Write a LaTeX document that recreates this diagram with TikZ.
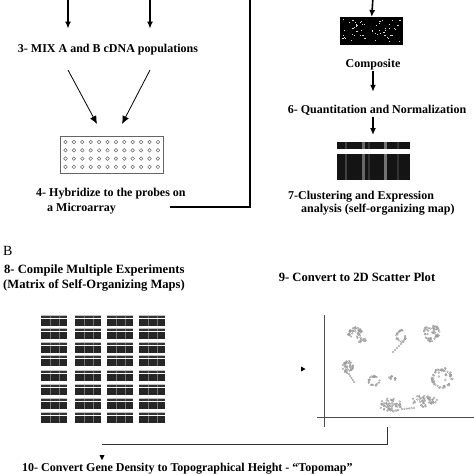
\documentclass[tikz,border=0pt]{standalone}
\usepackage{fontspec}
\setmainfont{Liberation Serif}
\usetikzlibrary{arrows.meta,calc}
\begin{document}
\begin{tikzpicture}[x=1pt,y=-1pt,
  lbl/.style={font=\fontsize{12}{13}\selectfont\bfseries, inner sep=0pt, text height=8.5pt, text depth=2.5pt},
  lblb/.style={font=\fontsize{12.6}{13}\selectfont\bfseries, inner sep=0pt, text height=8.5pt, text depth=2.5pt},
  arrthick/.style={line width=1.6pt, -{Latex[length=7pt,width=6pt]}},
  arrthin/.style={line width=0.8pt, -{Latex[length=8pt,width=7pt]}},
  wire/.style={line width=1.2pt},
  thinwire/.style={line width=0.8pt, draw=black!80},
  axisline/.style={line width=0.8pt, draw=black!70},
  dotc/.style={draw=black!40, line width=0.35pt},
]
\useasboundingbox (0,0) rectangle (474,474);

% ---------- Part A, left column ----------
\coordinate (inA) at (68,-3);
\coordinate (inB) at (150,-3);
\node[lbl] (mix) at (108,49.3) {3- MIX A and B cDNA populations};
\draw[arrthick, shorten >=15pt] (inA) -- (inA |- mix.north);
\draw[arrthick, shorten >=15pt] (inB) -- (inB |- mix.north);

\node[draw=black!60, line width=0.9pt, minimum width=103pt, minimum height=37pt, inner sep=0pt, anchor=north west] (chip) at (60,136) {};
\foreach \i in {0,...,11}
  \foreach \j in {0,...,3}
    \draw[black!60, line width=0.5pt] ($(chip.north west)+(5.5+\i*8.4, 6+\j*8.3)$) circle[radius=1.8pt];

\coordinate (d1s) at (68,70);  \coordinate (d1e) at (97,124);
\coordinate (d2s) at (150,70); \coordinate (d2e) at (122,124);
\draw[arrthin] (d1s) -- (d1e);
\draw[arrthin] (d2s) -- (d2e);

\node[lbl, anchor=west] (hyb1) at (36,193) {4- Hybridize to the probes on};
\node[lbl, anchor=west] (hyb2) at (47,208.7) {a Microarray};

% feedback line
\coordinate (fb0) at (170,207);
\coordinate (fbtop) at (250,-3);
\draw[wire] (fb0) -- (fb0 -| fbtop) -- (fbtop);

% ---------- Part A, right column ----------
\coordinate (inC) at (373,-3);
\node[fill=black, minimum width=63pt, minimum height=28pt, inner sep=0pt, anchor=north west] (compimg) at (340,17) {};
\draw[arrthick] (inC) -- (compimg.north);
\pgfmathsetseed{11}
\foreach \k in {1,...,55}
  \fill[black!15] ($(compimg.north west)+(2+rnd*58, 2+rnd*23)$) rectangle ++(1.3,0.9);

\node[lbl] (comp) at (373,64) {Composite};
\node[lbl] (quant) at (377,110.5) {6- Quantitation and Normalization};
\draw[arrthick, shorten <=1pt, shorten >=13pt] (comp.south -| inC) -- (quant.north -| inC);

\node[fill=black!92, minimum width=73pt, minimum height=7pt, inner sep=0pt, anchor=north west] (clustbar) at (337,142) {};
\node[fill=black!92, minimum width=73pt, minimum height=26pt, inner sep=0pt, anchor=north west] (clustimg) at (337,154) {};
\foreach \bx/\bw/\bc in {8/2/75, 25/3/60, 31/2/80, 47/3/55, 60/2/80}{
  \fill[black!\bc] ($(clustbar.north west)+(\bx,0)$) rectangle ++(\bw,7);
  \fill[black!\bc] ($(clustimg.north west)+(\bx,0)$) rectangle ++(\bw,26);
}
\draw[arrthick, shorten <=1pt, shorten >=7pt] (quant.south -| inC) -- (clustbar.north -| inC);

\node[lbl, anchor=west] (clu1) at (288,196.3) {7-Clustering and Expression};
\node[lbl, anchor=west] (clu2) at (301,209.3) {analysis (self-organizing map)};

% ---------- Part B ----------
\node[font=\fontsize{14}{15}\selectfont, inner sep=0pt, anchor=base west] (labB) at (3,255) {B};
\node[lblb, anchor=west] (exp1) at (4,270.3) {8- Compile Multiple Experiments};
\node[lblb, anchor=west] (exp2) at (3,285.3) {(Matrix of Self-Organizing Maps)};
\node[lblb] (scat) at (357,278) {9- Convert to 2D Scatter Plot};

% matrix of self-organizing maps
\foreach \cx in {41,75,107,139}
  \foreach \ry in {315,328,342,355,370,384,398,412}{
    \fill[black!25] (\cx,\ry) rectangle ++(26,0.8);
    \fill[black!80] (\cx,\ry+0.8) rectangle ++(26,2.6);
    \fill[black!85] (\cx,\ry+4.4) rectangle ++(26,6.6);
    \fill[black!55] (\cx+8.5,\ry+0.8) rectangle ++(1,2.6);
    \fill[black!55] (\cx+17.5,\ry+0.8) rectangle ++(1,2.6);
    \fill[black!55] (\cx+8.5,\ry+4.4) rectangle ++(1,6.6);
    \fill[black!55] (\cx+17.5,\ry+4.4) rectangle ++(1,6.6);
  }
\fill[black] (301,366.5) -- (305.5,369) -- (301,371.5) -- cycle;

% scatter plot
\coordinate (org) at (324,417);
\draw[axisline] (org |- 0,315) -- (org |- 0,427);
\draw[axisline] (317,417) -- (474,417);

\newcommand{\myblob}[5]{%
  \foreach \k in {1,...,#5}{%
    \pgfmathsetmacro{\ang}{rnd*360}%
    \pgfmathsetmacro{\rr}{sqrt(rnd)}%
    \draw[dotc] ({#1+#3*\rr*cos(\ang)},{#2+#4*\rr*sin(\ang)}) circle[radius=0.9pt];
  }}
\newcommand{\myring}[5]{%
  \foreach \k in {1,...,#5}{%
    \pgfmathsetmacro{\ang}{rnd*360}%
    \pgfmathsetmacro{\rr}{0.75+0.25*rnd}%
    \draw[dotc] ({#1+#3*\rr*cos(\ang)},{#2+#4*\rr*sin(\ang)}) circle[radius=0.9pt];
  }}
\pgfmathsetseed{3}
\myblob{355}{333}{7}{6}{40}
\myblob{362}{340}{4}{3}{12}
\myring{401}{336}{5}{6}{22}
\foreach \t in {0,0.2,...,1}{\draw[dotc] ({403-10*\t},{342+10*\t}) circle[radius=0.9pt];}
\myblob{432}{332}{8}{10}{55}
\myblob{348}{367}{6}{7}{40}
\foreach \t in {0,0.25,...,1}{\draw[dotc] ({349+5*\t},{374+8*\t}) circle[radius=0.9pt];}
\myring{374}{381}{6}{5}{22}
\myblob{393}{378}{4}{2.5}{10}
\myring{442}{378}{11}{10}{45}
\myblob{445}{374}{7}{6}{15}
\myblob{390}{405}{12}{7}{60}
\foreach \t in {0,0.2,...,1}{\draw[dotc] ({402+12*\t},{409-1*\t}) circle[radius=0.9pt];}
\myblob{424}{401}{13}{6}{50}

% connector to step 10
\coordinate (sp) at (387,427);
\coordinate (c10) at (102,444);
\draw[thinwire] (sp) -- (sp |- c10) -- (c10);
\fill[black] (99.5,455) -- (104.5,455) -- (102,460) -- cycle;

\node[lbl, anchor=base west] (topo) at (22,471) {10- Convert Gene Density to Topographical Height - “Topomap”};
\end{tikzpicture}
\end{document}
